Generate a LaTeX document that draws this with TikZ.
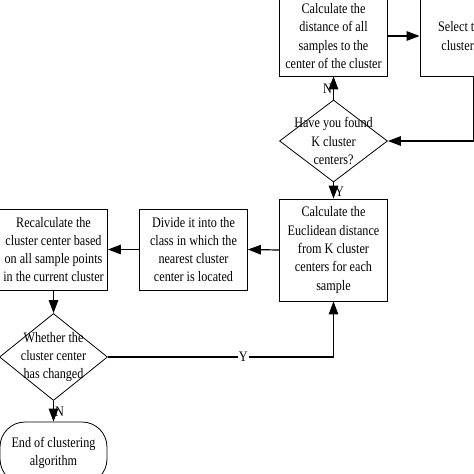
\documentclass[tikz,border=0pt]{standalone}
\usepackage{fontspec}
\setmainfont{Liberation Serif}[FakeStretch=0.84]
\usetikzlibrary{shapes.geometric,arrows.meta}

\newcommand{\flowfont}{\fontsize{14.5}{18.3}\selectfont}

\tikzset{
    stepbox/.style={draw, line width=0.8pt, minimum width=108pt, align=center, inner sep=2pt, font=\flowfont},
    decision/.style={draw, diamond, line width=0.8pt, minimum width=108pt, inner sep=0pt},
    terminal/.style={draw, line width=0.8pt, rounded corners=25pt, minimum width=107pt, minimum height=62pt, align=center, font=\flowfont},
    flow/.style={->, line width=1.2pt},
    answer/.style={font=\flowfont, inner sep=1pt}
}

\begin{document}
\begin{tikzpicture}[x=1pt, y=-1pt, >={Triangle[length=13pt,width=9.5pt]}]

        \useasboundingbox (0,0) rectangle (474,474);
        \clip (0,0) rectangle (474,474);

        % Top row
        \node[stepbox, minimum height=80pt] (dist) at (333.5,36) {Calculate the\\distance of all\\samples to the\\center of the cluster};
        \node[stepbox, minimum height=80pt] (select) at (474,36) {Select the next\\cluster center};

        % First decision
        \node[decision, minimum height=82pt,
              label={[align=center, font=\flowfont]center:Have you found\\K cluster\\centers?}] (found) at (333.5,141) {};

        % Middle row
        \node[stepbox, minimum height=102pt] (eucl) at (333.5,250) {Calculate the\\Euclidean distance\\from K cluster\\centers for each\\sample};
        \node[stepbox, minimum height=81pt] (divide) at (193.5,249.5) {Divide it into the\\class in which the\\nearest cluster\\center is located};
        \node[stepbox, minimum height=81pt] (recalc) at (53.5,249.5) {Recalculate the\\cluster center based\\on all sample points\\in the current cluster};

        % Second decision
        \node[decision, minimum height=87pt,
              label={[align=center, font=\flowfont]center:Whether the\\cluster center\\has changed}] (changed) at (53.5,357) {};

        % End
        \node[terminal] (finish) at (53.5,453) {End of clustering\\algorithm};

        % Connectors
        \draw[flow] (dist.east) -- (select.west);
        \draw[flow] (select.south) |- (found.east);
        \draw[flow] (found.north) -- (dist.south) node[answer, pos=0.45, left] {N};
        \draw[flow] (found.south) -- (eucl.north) node[answer, pos=0.55, right] {Y};
        \draw[flow] (eucl.west) -- (divide.east);
        \draw[flow] (divide.west) -- (recalc.east);
        \draw[flow] (recalc.south) -- (changed.north);
        \draw[flow] (changed.east) -| (eucl.south) node[answer, pos=0.3, fill=white] {Y};
        \draw[flow] (changed.south) -- (finish.north) node[answer, pos=0.5, right] {N};

\end{tikzpicture}
\end{document}
